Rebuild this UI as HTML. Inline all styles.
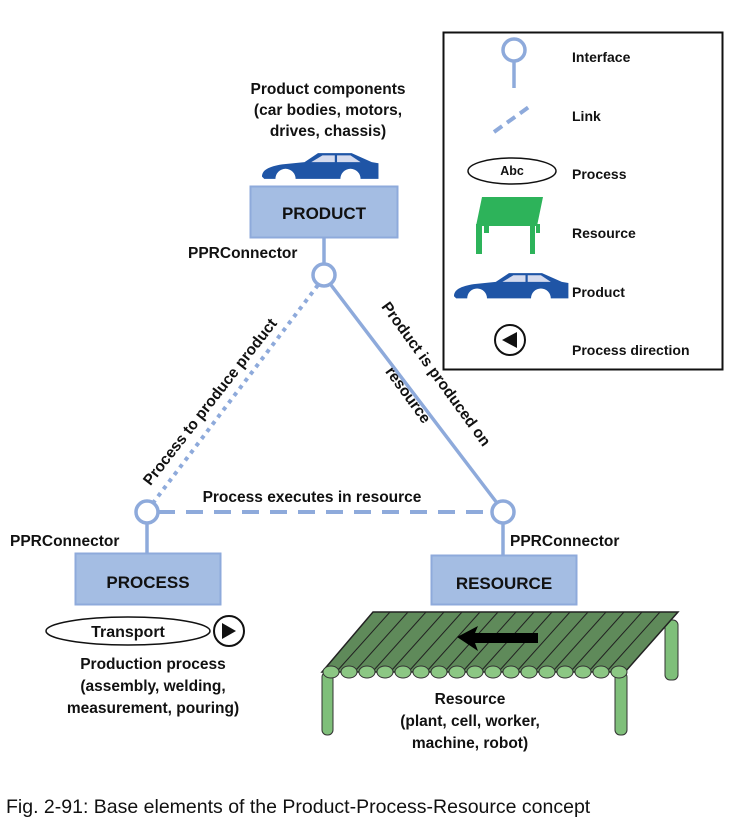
<!DOCTYPE html>
<html><head><meta charset="utf-8"><style>
body{margin:0;background:#fff;}
svg{display:block;}
text{font-family:"Liberation Sans",sans-serif;font-weight:bold;font-size:15.5px;fill:#111;}
</style></head><body>
<svg width="755" height="835" viewBox="0 0 755 835" xmlns="http://www.w3.org/2000/svg">
<defs>
<g id="car">
<path d="M0,22 C0,16 6,13 18,11 L38,9 L50,1 L80,1 L98,9 L104,10 L104,24 L88,24 A9,9 0 0 0 70,24 L30,24 A9,9 0 0 0 12,24 L2,24 Z" fill="#1f55a6"/>
<path d="M44,9 L54,3 L65,3 L65,9 Z M67,3 L79,3 L88,9 L67,9 Z" fill="#d5dbee"/>
</g>
</defs>
<!-- legend -->
<rect x="443.5" y="32.5" width="279" height="337" fill="#fff" stroke="#111" stroke-width="2"/>
<circle cx="514" cy="50" r="11" fill="none" stroke="#8eaadb" stroke-width="3.5"/>
<line x1="514" y1="61" x2="514" y2="88" stroke="#8eaadb" stroke-width="3.5"/>
<line x1="494" y1="132" x2="533" y2="104" stroke="#8eaadb" stroke-width="4" stroke-dasharray="10,6"/>
<ellipse cx="512" cy="171" rx="44" ry="13" fill="#fff" stroke="#111" stroke-width="1.5"/>
<text x="512" y="175" text-anchor="middle" style="font-size:12.5px">Abc</text>
<path d="M482,197 L543,197 L537,226 L476,226 Z" fill="#2db35a"/>
<rect x="476" y="224" width="6" height="30" fill="#2db35a"/>
<rect x="484" y="224" width="5" height="9" fill="#2db35a"/>
<rect x="530" y="224" width="5" height="30" fill="#2db35a"/>
<rect x="536" y="224" width="4" height="9" fill="#2db35a"/>
<g transform="translate(454,272) scale(1.1)"><use href="#car"/></g>
<circle cx="510" cy="340" r="15" fill="#fff" stroke="#111" stroke-width="2"/>
<path d="M502,340 L517,332 L517,348 Z" fill="#111"/>
<text x="572" y="62" style="font-size:14px">Interface</text>
<text x="572" y="121" style="font-size:14px">Link</text>
<text x="572" y="179" style="font-size:14px">Process</text>
<text x="572" y="238" style="font-size:14px">Resource</text>
<text x="572" y="297" style="font-size:14px">Product</text>
<text x="572" y="355" style="font-size:14px">Process direction</text>
<!-- connectors -->
<line x1="318" y1="285" x2="153" y2="503" stroke="#8eaadb" stroke-width="4" stroke-dasharray="4,5"/>
<line x1="331" y1="285" x2="497" y2="503" stroke="#8eaadb" stroke-width="3.5"/>
<line x1="158" y1="512" x2="492" y2="512" stroke="#8eaadb" stroke-width="4" stroke-dasharray="17,11"/>
<line x1="324" y1="238" x2="324" y2="264" stroke="#8eaadb" stroke-width="3.5"/>
<line x1="147" y1="523" x2="147" y2="553" stroke="#8eaadb" stroke-width="3.5"/>
<line x1="503" y1="523" x2="503" y2="556" stroke="#8eaadb" stroke-width="3.5"/>
<circle cx="324" cy="275" r="11" fill="#fff" stroke="#8eaadb" stroke-width="3.5"/>
<circle cx="147" cy="512" r="11" fill="#fff" stroke="#8eaadb" stroke-width="3.5"/>
<circle cx="503" cy="512" r="11" fill="#fff" stroke="#8eaadb" stroke-width="3.5"/>
<!-- boxes -->
<rect x="250.5" y="186.5" width="147" height="51" fill="#a4bde3" stroke="#8eaadb" stroke-width="2"/>
<text x="324" y="219" text-anchor="middle" style="font-size:17px">PRODUCT</text>
<rect x="75.5" y="553.5" width="145" height="51" fill="#a4bde3" stroke="#8eaadb" stroke-width="2"/>
<text x="148" y="588" text-anchor="middle" style="font-size:17px">PROCESS</text>
<rect x="431.5" y="555.5" width="145" height="49" fill="#a4bde3" stroke="#8eaadb" stroke-width="2"/>
<text x="504" y="589" text-anchor="middle" style="font-size:17px">RESOURCE</text>
<g transform="translate(262,152) scale(1.12)"><use href="#car"/></g>
<!-- labels -->
<text x="328" y="94" text-anchor="middle">Product components</text>
<text x="328" y="115" text-anchor="middle">(car bodies, motors,</text>
<text x="328" y="136" text-anchor="middle">drives, chassis)</text>
<text x="188" y="258">PPRConnector</text>
<text x="10" y="546">PPRConnector</text>
<text x="510" y="546">PPRConnector</text>
<text x="312" y="502" text-anchor="middle">Process executes in resource</text>
<text transform="translate(214,405) rotate(-52)" text-anchor="middle">Process to produce product</text>
<text transform="translate(432,377) rotate(54)" text-anchor="middle">Product is produced on</text>
<text transform="translate(404,398) rotate(54)" text-anchor="middle">resource</text>
<!-- process -->
<ellipse cx="128" cy="631" rx="82" ry="14" fill="#fff" stroke="#111" stroke-width="1.5"/>
<text x="128" y="637" text-anchor="middle" style="font-size:16px">Transport</text>
<circle cx="229" cy="631" r="15" fill="#fff" stroke="#111" stroke-width="2"/>
<path d="M236,631 L222,623 L222,639 Z" fill="#111"/>
<text x="153" y="669" text-anchor="middle">Production process</text>
<text x="153" y="691" text-anchor="middle">(assembly, welding,</text>
<text x="153" y="713" text-anchor="middle">measurement, pouring)</text>
<!-- conveyor -->
<rect x="665" y="620" width="13" height="60" rx="5" fill="#7fbf7a" stroke="#333" stroke-width="1"/>
<path d="M373,612 L678,612 L625,672 L322,672 Z" fill="#5f8a5a" stroke="#222" stroke-width="1.5"/>
<g stroke="#222" stroke-width="1">
<line x1="390" y1="612" x2="338" y2="670"/><line x1="408" y1="612" x2="356" y2="670"/><line x1="426" y1="612" x2="374" y2="670"/><line x1="444" y1="612" x2="392" y2="670"/><line x1="462" y1="612" x2="410" y2="670"/><line x1="480" y1="612" x2="428" y2="670"/><line x1="498" y1="612" x2="446" y2="670"/><line x1="516" y1="612" x2="464" y2="670"/><line x1="534" y1="612" x2="482" y2="670"/><line x1="552" y1="612" x2="500" y2="670"/><line x1="570" y1="612" x2="518" y2="670"/><line x1="588" y1="612" x2="536" y2="670"/><line x1="606" y1="612" x2="554" y2="670"/><line x1="624" y1="612" x2="572" y2="670"/><line x1="642" y1="612" x2="590" y2="670"/><line x1="660" y1="612" x2="608" y2="670"/>
</g>
<path d="M457,637 L478,626 L475,633 L538,633 L538,643 L475,643 L478,651 Z" fill="#000"/>
<rect x="322" y="672" width="11" height="63" rx="5" fill="#7fbf7a" stroke="#333" stroke-width="1"/>
<rect x="615" y="672" width="12" height="63" rx="5" fill="#7fbf7a" stroke="#333" stroke-width="1"/>
<g fill="#8cc784" stroke="#333" stroke-width="1">
<ellipse cx="331" cy="672" rx="8" ry="6"/><ellipse cx="349" cy="672" rx="8" ry="6"/><ellipse cx="367" cy="672" rx="8" ry="6"/><ellipse cx="385" cy="672" rx="8" ry="6"/><ellipse cx="403" cy="672" rx="8" ry="6"/><ellipse cx="421" cy="672" rx="8" ry="6"/><ellipse cx="439" cy="672" rx="8" ry="6"/><ellipse cx="457" cy="672" rx="8" ry="6"/><ellipse cx="475" cy="672" rx="8" ry="6"/><ellipse cx="493" cy="672" rx="8" ry="6"/><ellipse cx="511" cy="672" rx="8" ry="6"/><ellipse cx="529" cy="672" rx="8" ry="6"/><ellipse cx="547" cy="672" rx="8" ry="6"/><ellipse cx="565" cy="672" rx="8" ry="6"/><ellipse cx="583" cy="672" rx="8" ry="6"/><ellipse cx="601" cy="672" rx="8" ry="6"/><ellipse cx="619" cy="672" rx="8" ry="6"/>
</g>
<text x="470" y="704" text-anchor="middle">Resource</text>
<text x="470" y="726" text-anchor="middle">(plant, cell, worker,</text>
<text x="470" y="748" text-anchor="middle">machine, robot)</text>
<text x="6" y="813" style="font-weight:normal;font-size:19.5px">Fig. 2-91: Base elements of the Product-Process-Resource concept</text>
</svg>
</body></html>
